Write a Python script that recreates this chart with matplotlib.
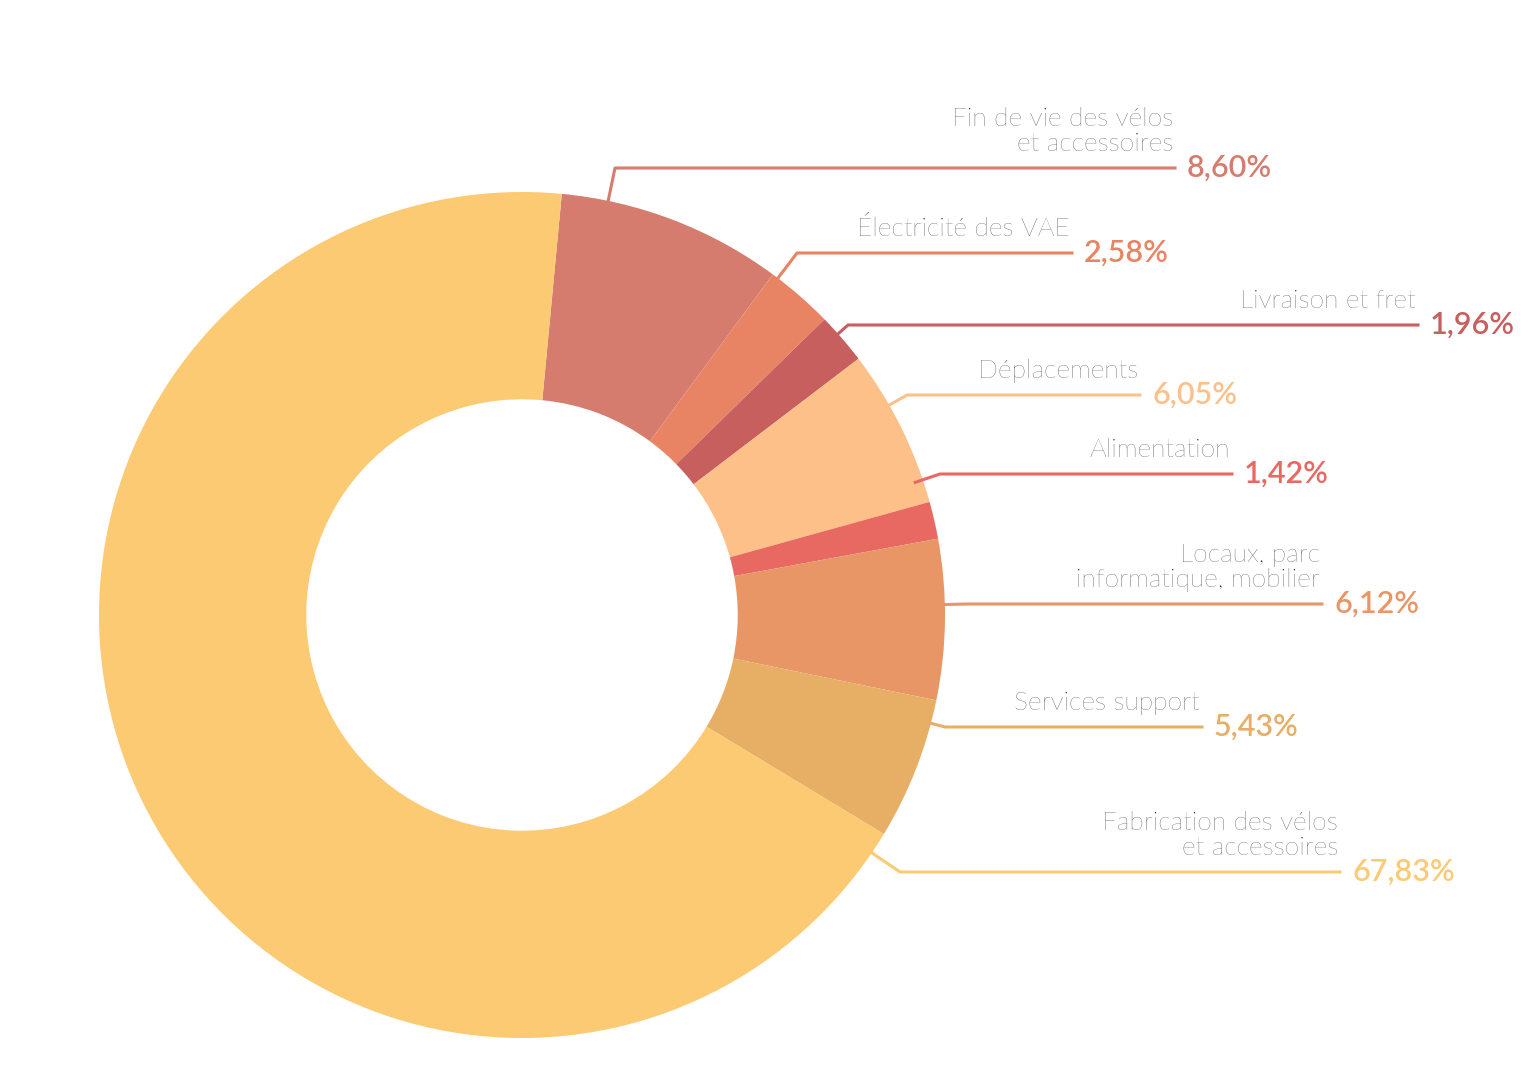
import numpy as np
import matplotlib
matplotlib.use("Agg")
import matplotlib.pyplot as plt

# data
labels = ["Fin de vie des vélos\net accessoires", "Électricité des VAE", "Livraison et fret",
          "Déplacements", "Alimentation", "Locaux, parc\ninformatique, mobilier",
          "Services support", "Fabrication des vélos\net accessoires"]
values = [8.60, 2.58, 1.96, 6.05, 1.42, 6.12, 5.43, 67.83]
pct_text = ["8,60%", "2,58%", "1,96%", "6,05%", "1,42%", "6,12%", "5,43%", "67,83%"]
colors = ["#D67C6E", "#E88463", "#C75F5E", "#FEC089", "#E86862", "#E89666", "#E7AE65", "#FCCA72"]

# layout in image pixels (y down): elbow point, line end x
elbows = [(615, 168), (797, 253), (848, 325), (907, 395), (940, 474), (967, 604), (945, 727), (900, 872)]
line_end = [1175, 1072, 1418, 1140, 1232, 1322, 1202, 1340]

W, H = 1536, 1086
cx, cy, R = 522, 615, 423

fig = plt.figure(figsize=(W / 100, H / 100), dpi=100)
ax = fig.add_axes([0, 0, 1, 1])

ax.pie(values, colors=colors, startangle=84.6, counterclock=False,
       center=(cx, H - cy), radius=R, wedgeprops=dict(width=R * 0.49, linewidth=0))

for i in range(len(values)):
    ex, ey = elbows[i]
    d = np.array([ex - cx, ey - cy], float)
    d /= np.hypot(*d)
    sx, sy = cx + d[0] * (R - 8), cy + d[1] * (R - 8)
    ax.plot([sx, ex, line_end[i]], [H - sy, H - ey, H - ey], color=colors[i], lw=2.2)
    ax.text(line_end[i] - 2, H - ey + 12, labels[i], ha="right", va="bottom",
            family="Lato", weight="light", fontsize=19, color="#222222", linespacing=1.05)
    ax.text(line_end[i] + 12, H - ey, pct_text[i], ha="left", va="center",
            family="Lato", weight="semibold", fontsize=22, color=colors[i])

ax.set_xlim(0, W)
ax.set_ylim(0, H)
ax.set_aspect("equal")
ax.axis("off")

fig.savefig("out.png", dpi=100, facecolor="white")
